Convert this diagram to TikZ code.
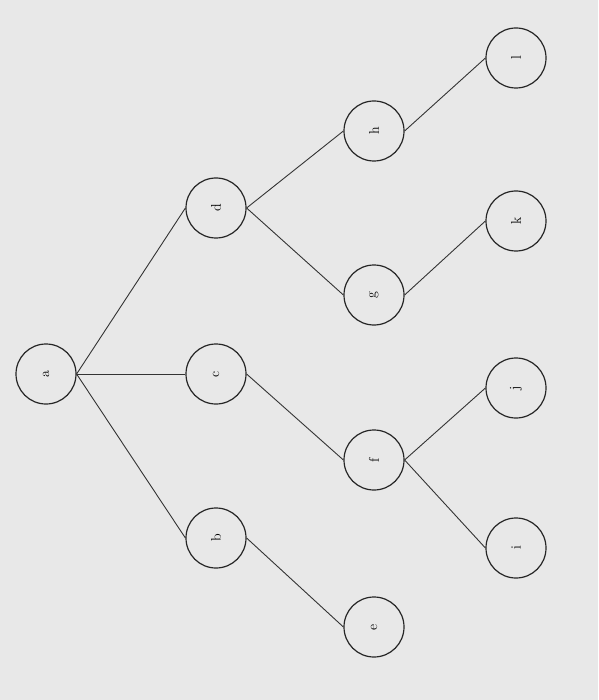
\documentclass[tikz,border=0pt]{standalone}
\begin{document}
\begin{tikzpicture}[x=1pt,y=-1pt,
  vtx/.style={circle,draw=black!85,line width=1.2pt,minimum size=60pt,inner sep=0pt,
    font=\fontsize{14}{16}\selectfont,rotate=90},
  edge/.style={draw=black!80,line width=0.9pt}]
\fill[black!9] (0,0) rectangle (598,700);
\useasboundingbox (0,0) rectangle (598,700);
\node[vtx] (a) at (46,374) {a};
\node[vtx] (b) at (216,538) {b};
\node[vtx] (c) at (216,374) {c};
\node[vtx] (d) at (216,208) {d};
\node[vtx] (e) at (374,627) {e};
\node[vtx] (f) at (374,460) {f};
\node[vtx] (g) at (374,295) {g};
\node[vtx] (h) at (374,131) {h};
\node[vtx] (i) at (516,548) {i};
\node[vtx] (j) at (516,388) {j};
\node[vtx] (k) at (516,221) {k};
\node[vtx] (l) at (516,58) {l};
\draw[edge] (a.south) -- (b.north);
\draw[edge] (a.south) -- (c.north);
\draw[edge] (a.south) -- (d.north);
\draw[edge] (b.south) -- (e.north);
\draw[edge] (c.south) -- (f.north);
\draw[edge] (d.south) -- (g.north);
\draw[edge] (d.south) -- (h.north);
\draw[edge] (f.south) -- (i.north);
\draw[edge] (f.south) -- (j.north);
\draw[edge] (g.south) -- (k.north);
\draw[edge] (h.south) -- (l.north);
\end{tikzpicture}
\end{document}
